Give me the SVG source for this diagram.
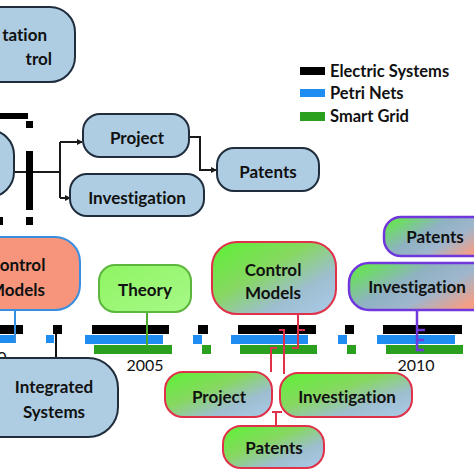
<svg xmlns="http://www.w3.org/2000/svg" width="474" height="474" viewBox="0 0 474 474">
<defs>
<style>
.t{font-family:Lato,"Liberation Sans",sans-serif;font-weight:bold;font-size:17px;fill:#111;text-anchor:middle;font-variant-ligatures:none}
.yr{font-family:Lato,"Liberation Sans",sans-serif;font-size:16px;fill:#111;text-anchor:middle}
.lg{font-family:Lato,"Liberation Sans",sans-serif;font-weight:bold;font-size:16.5px;fill:#111}
.blue{fill:#aecde3;stroke:#1f2d3d;stroke-width:2}
.red{fill:url(#gRed);stroke:#e0304a;stroke-width:2}
.pur{fill:url(#gPur);stroke:#7038dc;stroke-width:2.5}
.k{fill:#000}.b{fill:#1e8cf0}.g{fill:#2aa01e}
.c{fill:none;stroke:#1a1a1a;stroke-width:2}
</style>
<linearGradient id="gRed" x1="0" y1="0" x2="1" y2="1">
<stop offset="0" stop-color="#5cf235"/><stop offset="0.4" stop-color="#86d860"/><stop offset="0.7" stop-color="#9ebed0"/><stop offset="1" stop-color="#a9cbe8"/>
</linearGradient>
<linearGradient id="gPur" x1="0" y1="0" x2="1" y2="0.6">
<stop offset="0" stop-color="#5cf235"/><stop offset="0.45" stop-color="#8fb2c2"/><stop offset="0.7" stop-color="#9fb6cc"/><stop offset="1" stop-color="#f59e86"/>
</linearGradient>
<linearGradient id="gTh" x1="0" y1="0" x2="1" y2="1">
<stop offset="0" stop-color="#8ef562"/><stop offset="1" stop-color="#a8f888"/>
</linearGradient>
<marker id="ar" viewBox="0 0 6 6" refX="5" refY="3" markerWidth="3" markerHeight="3" orient="auto">
<path d="M0,0 L6,3 L0,6 z" fill="#1a1a1a"/>
</marker>
</defs>
<rect width="474" height="474" fill="#fff"/>

<g id="legend">
<rect class="k" x="300" y="67" width="25" height="8"/>
<text class="lg" x="330" y="77">Electric Systems</text>
<rect class="b" x="300" y="89" width="25" height="8"/>
<text class="lg" x="330" y="99">Petri Nets</text>
<rect class="g" x="300" y="112" width="25" height="9"/>
<text class="lg" x="330" y="122">Smart Grid</text>
</g>

<g id="bars">
<rect class="k" x="0" y="113" width="28" height="6"/>
<rect class="k" x="26" y="121" width="7" height="7"/>
<rect class="k" x="26" y="151" width="7" height="59"/>
<rect class="k" x="0" y="217" width="3" height="8"/>
<rect class="k" x="26" y="217" width="7" height="8"/>

<rect class="k" x="0" y="325" width="23" height="9"/>
<rect class="b" x="0" y="335" width="16" height="8"/>
<rect class="k" x="53" y="325" width="9" height="9"/>
<rect class="b" x="46" y="335" width="8" height="8"/>
<rect class="k" x="92" y="325" width="77" height="9"/>
<rect class="b" x="85" y="335" width="78" height="9"/>
<rect class="g" x="94" y="345" width="78" height="9"/>
<rect class="k" x="198" y="325" width="10" height="9"/>
<rect class="b" x="193" y="335" width="9" height="9"/>
<rect class="g" x="202" y="345" width="9" height="9"/>
<rect class="k" x="238" y="325" width="78" height="9"/>
<rect class="b" x="231" y="335" width="77" height="9"/>
<rect class="g" x="240" y="345" width="77" height="9"/>
<rect class="k" x="345" y="325" width="9" height="9"/>
<rect class="b" x="338" y="335" width="9" height="9"/>
<rect class="g" x="347" y="345" width="9" height="9"/>
<rect class="k" x="383" y="325" width="79" height="9"/>
<rect class="b" x="377" y="335" width="78" height="9"/>
<rect class="g" x="386" y="345" width="77" height="9"/>
<text class="yr" x="2" y="363">0</text>
<text class="yr" x="145" y="371">2005</text>
<text class="yr" x="416" y="371">2010</text>
</g>

<g id="connectors">
<path class="c" d="M14,172 H26"/>
<path class="c" d="M33,172 H60 M60,142 V198"/>
<path class="c" d="M60,142 H82" marker-end="url(#ar)"/>
<path class="c" d="M60,198 H70" marker-end="url(#ar)"/>
<path class="c" d="M189,137 H200 V170 H216" marker-end="url(#ar)"/>
<path d="M15,310 V342" stroke="#3a8ee0" stroke-width="2" fill="none"/>
<path d="M56,334 V358" stroke="#111" stroke-width="2" fill="none"/>
<path d="M147,312 V346" stroke="#4caa2a" stroke-width="2" fill="none"/>
<g stroke="#e0304a" stroke-width="2" fill="none">
<path d="M298,314 V348 H292 M298,330 H305"/>
<path d="M284,374 V330 H279"/>
<path d="M271,372 V348 H277"/>
<path d="M272,412 H282 M276,412 V427"/>
</g>
<path d="M417,310 V350 H424 M417,330 H425 M417,340 H424" stroke="#7038dc" stroke-width="2.5" fill="none"/>
</g>

<g id="n_implementation_control">
<rect class="blue" x="-70" y="7" width="145" height="75" rx="25"/>
<text class="t" x="47" y="41" style="text-anchor:end">tation</text>
<text class="t" x="52" y="65" style="text-anchor:end">trol</text>
</g>
<g id="n_left">
<rect class="blue" x="-60" y="130" width="74" height="67" rx="25"/>
</g>
<g id="n_project_top">
<rect class="blue" x="83" y="114" width="106" height="43" rx="17"/>
<text class="t" x="137" y="144">Project</text>
</g>
<g id="n_investigation_top">
<rect class="blue" x="70" y="174" width="134" height="42" rx="17"/>
<text class="t" x="137" y="204">Investigation</text>
</g>
<g id="n_patents_top">
<rect class="blue" x="217" y="148" width="102" height="43" rx="17"/>
<text class="t" x="268" y="178">Patents</text>
</g>
<g id="n_control_models_blue">
<rect x="-48" y="237" width="128" height="73" rx="25" fill="#f6957c" stroke="#3a8ee0" stroke-width="2"/>
<text class="t" x="17" y="271">Control</text>
<text class="t" x="17" y="296">Models</text>
</g>
<g id="n_theory">
<rect x="99" y="265" width="92" height="47" rx="16" fill="url(#gTh)" stroke="#5cb53c" stroke-width="2"/>
<text class="t" x="145" y="296">Theory</text>
</g>
<g id="n_control_models_red">
<rect class="red" x="212" y="242" width="124" height="72" rx="25"/>
<text class="t" x="273" y="276">Control</text>
<text class="t" x="273" y="299">Models</text>
</g>
<g id="n_patents_purple">
<rect class="pur" x="384" y="217" width="110" height="39" rx="17"/>
<text class="t" x="435" y="243">Patents</text>
</g>
<g id="n_investigation_purple">
<rect class="pur" x="349" y="263" width="145" height="47" rx="20"/>
<text class="t" x="417" y="293">Investigation</text>
</g>
<g id="n_integrated_systems">
<rect class="blue" x="-40" y="358" width="158" height="79" rx="30"/>
<text class="t" x="54" y="393">Integrated</text>
<text class="t" x="54" y="418">Systems</text>
</g>
<g id="n_project_red">
<rect class="red" x="165" y="372" width="107" height="45" rx="18"/>
<text class="t" x="219" y="403">Project</text>
</g>
<g id="n_investigation_red">
<rect class="red" x="280" y="373" width="132" height="44" rx="18"/>
<text class="t" x="347" y="403">Investigation</text>
</g>
<g id="n_patents_red">
<rect class="red" x="223" y="426" width="101" height="42" rx="18"/>
<text class="t" x="274" y="454">Patents</text>
</g>
</svg>
